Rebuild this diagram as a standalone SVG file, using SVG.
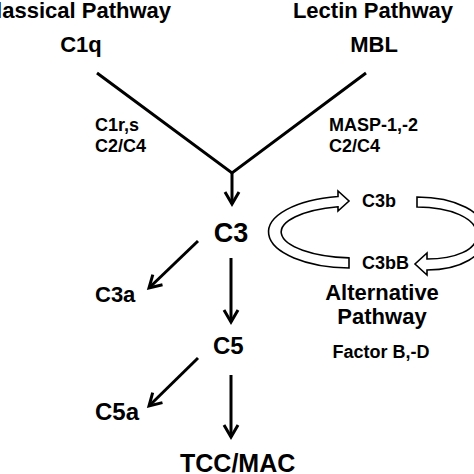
<svg xmlns="http://www.w3.org/2000/svg" width="474" height="474" viewBox="0 0 474 474">
<style>
text{font-family:"Liberation Sans",Arial,sans-serif;font-weight:bold;fill:#000}
.l{fill:none;stroke:#000;stroke-width:3}
.loop{fill:#fff;stroke:#000;stroke-width:1.6;stroke-linejoin:miter}
</style>
<defs>
<marker id="ah" viewBox="-16 -10 20 20" refX="0" refY="0" markerWidth="20" markerHeight="20" markerUnits="userSpaceOnUse" orient="auto">
<path d="M-12,-7 L0,0 L-12,7" fill="none" stroke="#000" stroke-width="3"/>
</marker>
</defs>
<rect width="474" height="474" fill="#fff"/>
<g id="classical"><text x="171" y="18" font-size="22" text-anchor="end">Classical Pathway</text><text x="81" y="52" font-size="22" text-anchor="middle">C1q</text></g>
<g id="lectin"><text x="373" y="18" font-size="22" text-anchor="middle">Lectin Pathway</text><text x="374" y="52" font-size="22" text-anchor="middle">MBL</text></g>
<g id="classical-enzymes"><text x="95" y="131" font-size="18">C1r,s</text><text x="95" y="152" font-size="18">C2/C4</text></g>
<g id="lectin-enzymes"><text x="329" y="131" font-size="18">MASP-1,-2</text><text x="329" y="152" font-size="18">C2/C4</text></g>
<g id="c3"><text x="231" y="242" font-size="27" text-anchor="middle">C3</text></g>
<g id="c3a"><text x="95" y="302" font-size="22">C3a</text></g>
<g id="c5"><text x="213" y="354" font-size="24">C5</text></g>
<g id="c5a"><text x="95" y="420" font-size="24">C5a</text></g>
<g id="tcc"><text x="180" y="472" font-size="25">TCC/MAC</text></g>
<g id="c3b"><text x="362" y="207" font-size="18">C3b</text></g>
<g id="c3bb"><text x="362" y="269" font-size="18">C3bB</text></g>
<g id="alternative"><text x="382" y="300" font-size="22" text-anchor="middle">Alternative</text><text x="382" y="324" font-size="22" text-anchor="middle">Pathway</text><text x="381" y="358" font-size="18" text-anchor="middle">Factor B,-D</text></g>
<g id="connectors">
<polyline class="l" points="97,73 232,173 366,73"/>
<line class="l" x1="232" y1="173" x2="232" y2="204" marker-end="url(#ah)"/>
<line class="l" x1="198" y1="241" x2="149" y2="288" marker-end="url(#ah)"/>
<line class="l" x1="231" y1="258" x2="231" y2="322" marker-end="url(#ah)"/>
<line class="l" x1="198" y1="358" x2="149" y2="406" marker-end="url(#ah)"/>
<line class="l" x1="231" y1="375" x2="231" y2="437" marker-end="url(#ah)"/>
<path class="loop" d="M349,268 A83,36 0 0 1 338,196.5 L338,191 L349,201 L338,211 L338,206.8 A75,26 0 0 0 349,257.9 Z"/>
<path class="loop" d="M417,197 C455,197 486,212 486,234 C486,256 460,270 427,270 L427,275 L415,264 L427,253 L427,259 C455,259 477,250 477,235 C477,218 450,207 417,207 Z"/>
</g>
</svg>
